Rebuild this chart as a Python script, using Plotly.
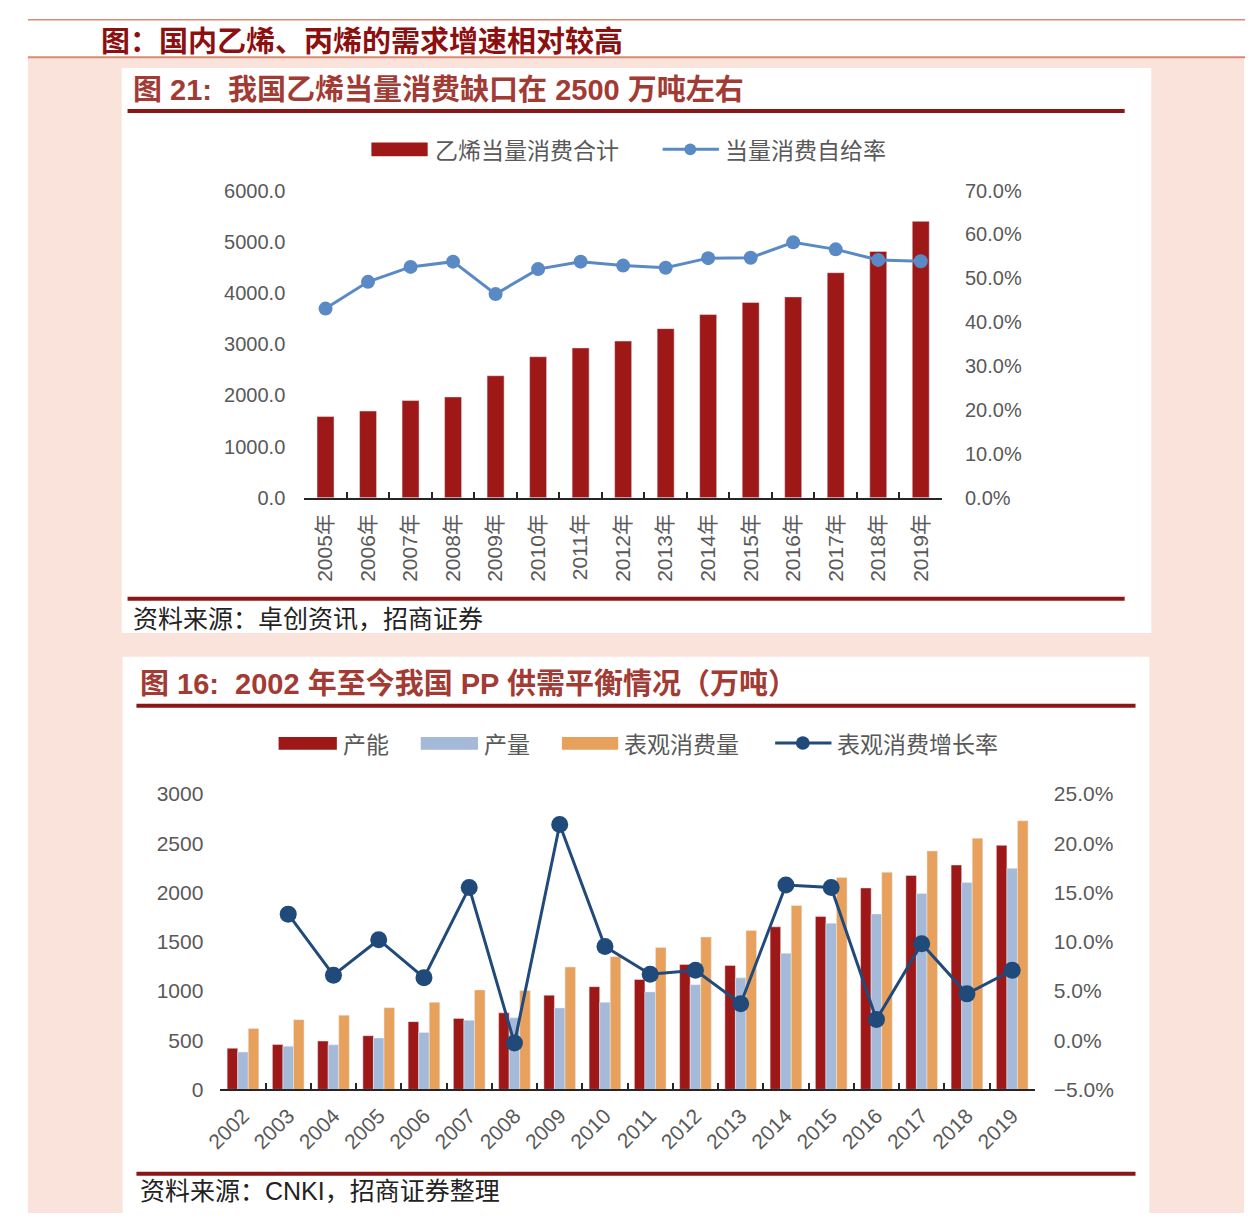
import plotly.graph_objects as go

W, H = 1252, 1224

# ---------------- data ----------------
years1 = ["2005年", "2006年", "2007年", "2008年", "2009年", "2010年", "2011年", "2012年",
          "2013年", "2014年", "2015年", "2016年", "2017年", "2018年", "2019年"]
ethylene_total = [1585, 1693, 1898, 1968, 2383, 2754, 2926, 3060, 3303, 3578, 3814, 3923, 4396, 4811, 5399]
self_rate = [0.431, 0.492, 0.526, 0.538, 0.464, 0.521, 0.538, 0.529, 0.524, 0.546, 0.547, 0.582, 0.566, 0.542, 0.539]

years2 = ["2002", "2003", "2004", "2005", "2006", "2007", "2008", "2009", "2010", "2011",
          "2012", "2013", "2014", "2015", "2016", "2017", "2018", "2019"]
pp_capacity = [418, 455, 491, 545, 688, 721, 777, 957, 1043, 1116, 1269, 1259, 1651, 1757, 2046, 2173, 2279, 2479]
pp_output = [379, 438, 452, 521, 578, 701, 727, 827, 884, 990, 1063, 1133, 1382, 1687, 1781, 1990, 2100, 2245]
pp_consumption = [618, 708, 754, 830, 884, 1010, 1003, 1243, 1348, 1442, 1548, 1614, 1867, 2152, 2206, 2422, 2551, 2728]
pp_growth = [None, 0.128, 0.066, 0.102, 0.0635, 0.155, -0.003, 0.219, 0.095, 0.067, 0.071, 0.037,
             0.1575, 0.155, 0.021, 0.098, 0.047, 0.071]

main_title = "图：国内乙烯、丙烯的需求增速相对较高"
title1 = "图 21:  我国乙烯当量消费缺口在 2500 万吨左右"
title2 = "图 16:  2002 年至今我国 PP 供需平衡情况（万吨）"
source1 = "资料来源：卓创资讯，招商证券"
source2 = "资料来源：CNKI，招商证券整理"
legend1 = ["乙烯当量消费合计", "当量消费自给率"]
legend2 = ["产能", "产量", "表观消费量", "表观消费增长率"]

# ---------------- style ----------------
RED = "#9e1818"
BLUE1 = "#5a8ac6"
LBLUE = "#a5b9d8"
ORANGE = "#e8a15c"
NAVY = "#1f4a7a"
TICK = "#595959"
FONT = "Liberation Sans, Noto Sans CJK SC, sans-serif"
CJK = "Noto Sans CJK SC, sans-serif"


def px(x):
    return x / W


def py(y):
    return 1 - y / H


fig = go.Figure()

# chart 1
fig.add_trace(go.Bar(x=years1, y=ethylene_total, marker_color=RED, width=0.4,
                     xaxis="x", yaxis="y", showlegend=False))
fig.add_trace(go.Scatter(x=years1, y=self_rate, mode="lines+markers",
                         line=dict(color=BLUE1, width=3), marker=dict(size=14, color=BLUE1),
                         xaxis="x", yaxis="y2", showlegend=False))
# chart 2
fig.add_trace(go.Bar(x=years2, y=pp_capacity, marker_color=RED, xaxis="x3", yaxis="y3", showlegend=False))
fig.add_trace(go.Bar(x=years2, y=pp_output, marker_color=LBLUE, xaxis="x3", yaxis="y3", showlegend=False))
fig.add_trace(go.Bar(x=years2, y=pp_consumption, marker_color=ORANGE, xaxis="x3", yaxis="y3", showlegend=False))
fig.add_trace(go.Scatter(x=years2, y=pp_growth, mode="lines+markers",
                         line=dict(color=NAVY, width=3), marker=dict(size=17, color=NAVY),
                         xaxis="x3", yaxis="y4", showlegend=False))

xax = dict(type="category", showline=True, linecolor="#262626", linewidth=2,
           ticks="inside", tickson="boundaries", ticklen=6, tickwidth=1.5, tickcolor="#262626",
           showgrid=False, zeroline=False, tickfont=dict(family=FONT, size=21, color=TICK))
yax = dict(showline=False, showgrid=False, zeroline=False, ticks="",
           tickfont=dict(family=FONT, size=20, color=TICK))

fig.update_layout(
    width=W, height=H, margin=dict(l=0, r=0, t=0, b=0),
    paper_bgcolor="white", plot_bgcolor="rgba(0,0,0,0)",
    barmode="group", bargap=0.3, bargroupgap=0,
    xaxis=dict(xax, domain=[px(292), px(938)], anchor="y", range=[-0.5, 14.5],
               tickangle=-90, ticklabelstandoff=6),
    yaxis=dict(yax, domain=[py(495), py(182)], anchor="x", range=[0, 6000], dtick=1000,
               tickformat=".1f", ticklabelstandoff=18),
    yaxis2=dict(yax, overlaying="y", side="right", anchor="x", range=[0, 0.7], dtick=0.1,
                tickformat=".1%", ticklabelstandoff=22),
    xaxis3=dict(xax, domain=[px(207), px(1032)], anchor="y3", range=[-0.5, 17.5],
                tickangle=-45, ticklabelstandoff=4, tickfont=dict(family=FONT, size=21, color=TICK)),
    yaxis3=dict(yax, domain=[py(1098), py(797)], anchor="x3", range=[0, 3000], dtick=500,
                ticklabelstandoff=16, tickfont=dict(family=FONT, size=21, color=TICK)),
    yaxis4=dict(yax, overlaying="y3", side="right", anchor="x3", range=[-0.05, 0.25], dtick=0.05,
                tickformat=".1%", ticklabelstandoff=18, tickfont=dict(family=FONT, size=21, color=TICK)),
)

shapes = []


def rect(x0, y0, x1, y1, color):
    shapes.append(dict(type="rect", xref="paper", yref="paper", x0=px(x0), x1=px(x1),
                       y0=py(y1), y1=py(y0), fillcolor=color, line=dict(width=0), layer="below"))


def hline(x0, x1, y, color, w):
    shapes.append(dict(type="line", xref="paper", yref="paper", x0=px(x0), x1=px(x1),
                       y0=py(y), y1=py(y), line=dict(color=color, width=w), layer="below"))


rect(12, 47, 1244, 1224, "#fae3da")
rect(107, 57, 1150, 633, "#ffffff")
rect(108, 657, 1148, 1224, "#ffffff")
hline(12, 1245, 8, "#d98a72", 1.5)
hline(12, 1245, 46, "#d98a72", 2)
hline(113, 1123, 101, "#8a1616", 4)
hline(113, 1123, 598, "#8a1616", 4)
hline(122, 1134, 707, "#8a1616", 4)
hline(122, 1134, 1184, "#8a1616", 4)

annotations = []


def text(x, y, s, size, color, bold=False, family=CJK):
    annotations.append(dict(xref="paper", yref="paper", x=px(x), y=py(y), text=("<b>%s</b>" % s) if bold else s,
                            showarrow=False, xanchor="left", yanchor="middle",
                            font=dict(family=family, size=size, color=color)))


text(84, 28, main_title, 29, "#8c1010", bold=True)
text(116, 80, title1, 29, "#a23b34", bold=True, family=FONT)
text(124, 685, title2, 29, "#a23b34", bold=True, family=FONT)
text(116, 617, source1, 25, "#222222")
text(124, 1202, source2, 25, "#222222", family=FONT)

# legend 1 (drawn)
rect(360, 133, 417, 147, RED)
text(422, 140, legend1[0], 23, TICK)
hline(655, 712, 140, BLUE1, 3)
shapes.append(dict(type="circle", xref="paper", yref="paper", x0=px(677), x1=px(689), y0=py(146), y1=py(134),
                   fillcolor=BLUE1, line=dict(width=0)))
text(716, 140, legend1[1], 23, TICK)

# legend 2 (drawn)
rect(266, 739, 325, 752, RED)
text(329, 745, legend2[0], 23, TICK)
rect(410, 739, 468, 752, LBLUE)
text(472, 745, legend2[1], 23, TICK)
rect(553, 739, 610, 752, ORANGE)
text(614, 745, legend2[2], 23, TICK)
hline(769, 826, 745, NAVY, 3)
shapes.append(dict(type="circle", xref="paper", yref="paper", x0=px(790), x1=px(804), y0=py(752), y1=py(738),
                   fillcolor=NAVY, line=dict(width=0)))
text(830, 745, legend2[3], 23, TICK)

fig.update_layout(shapes=shapes, annotations=annotations)
fig.write_html("out.html",
               post_script="document.body.style.margin='0';document.body.style.overflow='hidden';")
